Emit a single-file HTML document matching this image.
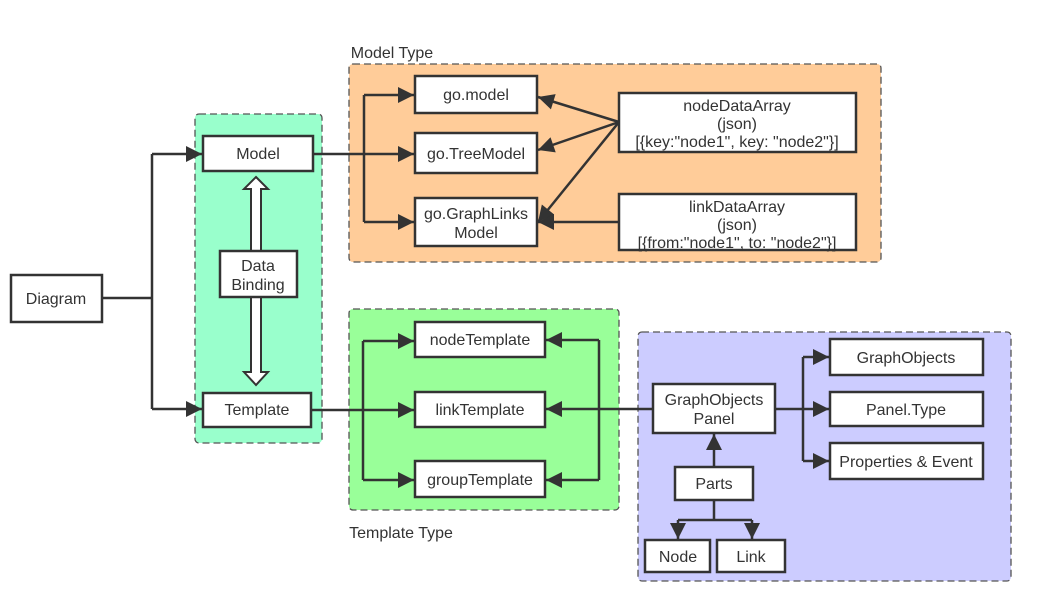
<!DOCTYPE html>
<html><head><meta charset="utf-8"><style>
body{margin:0;background:#fff}
svg{display:block}
text{font-family:"Liberation Sans",sans-serif;font-size:16px;fill:#333;text-anchor:middle}
.b{fill:#fff;stroke:#333;stroke-width:2.5}
.l{fill:none;stroke:#333;stroke-width:2.5}
.c{stroke:#555;stroke-width:1.3;stroke-dasharray:7 4}
</style></head><body>
<svg width="1039" height="609" viewBox="0 0 1039 609">
<defs>
<marker id="m" viewBox="0 0 10 10" markerWidth="18" markerHeight="16" refX="10" refY="5" orient="auto" markerUnits="userSpaceOnUse"><path d="M0,0 L10,5 L0,10 z" fill="#333"/></marker></defs>
<rect x="195" y="114" width="127" height="329" rx="4" fill="#99ffcc" class="c"/>
<rect x="349" y="64" width="532" height="198" rx="4" fill="#ffcc99" class="c"/>
<rect x="349" y="309" width="270" height="201" rx="4" fill="#99ff99" class="c"/>
<rect x="638" y="332" width="373" height="249" rx="4" fill="#ccccff" class="c"/>
<text x="392" y="58">Model Type</text>
<text x="401" y="538">Template Type</text>
<path class="l" d="M102,298 H152 M152,154 V409 M152,154 H202" marker-end="url(#m)"/>
<path class="l" d="M152,409 H202" marker-end="url(#m)"/>
<path class="l" d="M313,154 H414" marker-end="url(#m)"/>
<path class="l" d="M364,95 V222" />
<path class="l" d="M364,95 H414" marker-end="url(#m)"/>
<path class="l" d="M364,222 H414" marker-end="url(#m)"/>
<path class="l" d="M619,122 L538,97" marker-end="url(#m)"/>
<path class="l" d="M619,122 L538,150" marker-end="url(#m)"/>
<path class="l" d="M619,122 L538,222" marker-end="url(#m)"/>
<path class="l" d="M619,222 H538" marker-end="url(#m)"/>
<path class="l" d="M311,410 H414" marker-end="url(#m)"/>
<path class="l" d="M363,341 V480"/>
<path class="l" d="M363,341 H414" marker-end="url(#m)"/>
<path class="l" d="M363,480 H414" marker-end="url(#m)"/>
<path class="l" d="M599,340 V480"/>
<path class="l" d="M599,340 H546" marker-end="url(#m)"/>
<path class="l" d="M599,480 H546" marker-end="url(#m)"/>
<path class="l" d="M653,409 H546" marker-end="url(#m)"/>
<path class="l" d="M775,409 H829" marker-end="url(#m)"/>
<path class="l" d="M803,357 V461"/>
<path class="l" d="M803,357 H829" marker-end="url(#m)"/>
<path class="l" d="M803,461 H829" marker-end="url(#m)"/>
<path class="l" d="M714,467 V434" marker-end="url(#m)"/>
<path class="l" d="M714,500 V520 M678,520 H752"/>
<path class="l" d="M678,520 V539" marker-end="url(#m)"/>
<path class="l" d="M752,520 V539" marker-end="url(#m)"/>
<path d="M256,177 L268,189 L261,189 L261,251 L251,251 L251,189 L244,189 Z M251,297 L261,297 L261,372 L268,372 L256,385 L244,372 L251,372 Z" fill="#fff" stroke="#333" stroke-width="2"/>
<rect class="b" x="11" y="275" width="91" height="47"/><text x="56" y="304">Diagram</text>
<rect class="b" x="203" y="136" width="110" height="35"/><text x="258" y="159">Model</text>
<rect class="b" x="203" y="393" width="108" height="34"/><text x="257" y="415">Template</text>
<rect class="b" x="220" y="251" width="77" height="46"/><text x="258" y="271">Data</text><text x="258" y="290">Binding</text>
<rect class="b" x="415" y="76" width="122" height="37"/><text x="476" y="100">go.model</text>
<rect class="b" x="415" y="133" width="122" height="40"/><text x="476" y="159">go.TreeModel</text>
<rect class="b" x="415" y="198" width="122" height="48"/><text x="476" y="219">go.GraphLinks</text><text x="476" y="238">Model</text>
<rect class="b" x="619" y="93" width="237" height="59"/><text x="737" y="111">nodeDataArray</text><text x="737" y="129">(json)</text><text x="737" y="147">[{key:"node1", key: "node2"}]</text>
<rect class="b" x="619" y="194" width="237" height="56"/><text x="737" y="212">linkDataArray</text><text x="737" y="230">(json)</text><text x="737" y="248">[{from:"node1", to: "node2"}]</text>
<rect class="b" x="415" y="322" width="130" height="35"/><text x="480" y="345">nodeTemplate</text>
<rect class="b" x="415" y="392" width="130" height="35"/><text x="480" y="415">linkTemplate</text>
<rect class="b" x="415" y="461" width="130" height="36"/><text x="480" y="485">groupTemplate</text>
<rect class="b" x="653" y="384" width="122" height="49"/><text x="714" y="405">GraphObjects</text><text x="714" y="424">Panel</text>
<rect class="b" x="830" y="339" width="153" height="36"/><text x="906" y="363">GraphObjects</text>
<rect class="b" x="830" y="392" width="153" height="34"/><text x="906" y="415">Panel.Type</text>
<rect class="b" x="830" y="443" width="153" height="36"/><text x="906" y="467">Properties &amp; Event</text>
<rect class="b" x="675" y="467" width="78" height="33"/><text x="714" y="489">Parts</text>
<rect class="b" x="645" y="540" width="65" height="32"/><text x="678" y="562">Node</text>
<rect class="b" x="717" y="540" width="68" height="32"/><text x="751" y="562">Link</text>
</svg>
</body></html>
